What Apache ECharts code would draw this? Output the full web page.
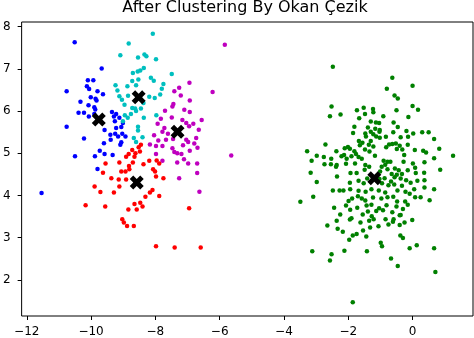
<!DOCTYPE html>
<html>
<head>
<meta charset="utf-8">
<script src="https://cdn.jsdelivr.net/npm/echarts@6/dist/echarts.min.js"></script>
<style>
  html, body { margin: 0; padding: 0; background: #fff; }
  #chart { width: 474px; height: 338px; }
</style>
</head>
<body>
<div id="chart"></div>
<script>
// Cluster members, [x, y]
const blue = [
  [-10.51,7.63],[-9.67,7.01],[-10.10,6.73],[-9.93,6.73],[-10.13,6.59],[-10.06,6.52],[-9.80,6.47],[-10.76,6.47],
  [-9.63,6.40],[-10.01,6.33],[-9.86,6.29],[-9.83,6.25],[-10.33,6.22],[-10.08,6.14],[-9.90,6.09],[-9.87,6.04],
  [-10.39,5.96],[-10.22,5.96],[-10.07,5.87],[-9.90,5.93],[-9.35,5.98],[-9.22,5.93],[-9.29,5.87],[-9.26,5.76],
  [-9.12,5.84],[-9.01,5.72],[-10.76,5.63],[-9.58,5.55],[-9.22,5.60],[-9.06,5.62],[-9.40,5.44],[-9.25,5.46],
  [-9.16,5.40],[-9.03,5.46],[-8.93,5.40],[-10.22,5.35],[-9.39,5.32],[-9.06,5.26],[-9.60,5.24],
  [-10.50,4.93],[-9.80,4.63],[-9.88,4.93],[-9.73,5.06],[-9.58,4.98],[-9.33,4.96],[-9.09,5.20],[-11.54,4.06]
];
const cyan = [
  [-8.08,7.83],[-8.83,7.60],[-9.09,7.32],[-8.54,7.27],[-8.34,7.34],[-8.28,7.30],[-7.98,7.23],[-7.49,6.88],
  [-8.36,7.02],[-8.47,6.96],[-8.55,6.94],[-8.70,6.90],[-8.14,6.79],[-8.05,6.72],[-8.72,6.71],[-8.53,6.75],
  [-7.75,6.64],[-9.24,6.61],[-8.87,6.59],[-8.60,6.61],[-7.80,6.53],[-9.18,6.49],[-9.12,6.35],[-8.85,6.36],
  [-8.19,6.34],[-8.02,6.31],[-7.85,6.39],[-9.04,6.27],[-8.96,6.15],[-8.72,6.07],[-8.63,6.06],[-8.37,6.19],
  [-8.45,6.06],[-8.95,5.90],[-8.76,5.93],[-8.60,6.00],[-8.86,5.84],[-8.36,5.84],[-9.01,5.76],[-7.97,5.90],
  [-8.54,5.63],[-8.54,5.54],[-8.67,5.36],[-8.40,5.38],[-8.60,5.27]
];
const magenta = [
  [-5.84,7.57],[-6.22,6.45],[-6.94,6.67],[-7.41,6.47],[-7.26,6.55],[-7.21,6.37],[-6.93,6.25],[-7.44,6.17],
  [-7.47,6.11],[-7.70,6.01],[-7.10,6.03],[-6.93,5.98],[-7.49,5.85],[-7.83,5.82],[-7.93,5.70],[-7.16,5.79],
  [-7.04,5.72],[-6.95,5.64],[-6.82,5.70],[-6.56,5.79],[-6.65,5.56],[-7.72,5.60],[-7.78,5.51],[-7.61,5.46],
  [-8.04,5.43],[-7.45,5.34],[-7.67,5.32],[-7.91,5.30],[-7.04,5.32],[-6.73,5.36],[-6.79,5.23],[-8.17,5.21],
  [-7.78,5.17],[-7.14,5.19],[-6.93,5.06],[-6.69,5.13],[-7.41,5.03],[-5.64,4.95],[-7.19,4.98],
  [-7.98,5.17],[-7.47,5.12],[-7.32,5.00],[-7.98,4.98],[-7.78,4.82],[-7.32,4.78],[-7.11,4.86],[-6.98,4.76],
  [-6.70,4.76],[-7.26,4.41],[-6.70,4.53],[-6.63,4.09],[-6.98,5.27]
];
const red = [
  [-8.45,5.20],[-8.52,5.14],[-8.72,5.08],[-8.83,4.98],[-8.62,5.00],[-8.91,4.92],[-8.65,4.92],[-8.48,5.04],
  [-9.55,4.76],[-9.12,4.78],[-8.70,4.78],[-8.37,4.74],[-8.19,4.82],[-7.96,4.83],[-7.88,4.76],[-8.82,4.70],
  [-9.63,4.54],[-9.06,4.57],[-8.93,4.57],[-8.81,4.62],[-8.07,4.62],[-8.01,4.57],[-9.37,4.41],[-9.14,4.38],
  [-8.91,4.38],[-7.98,4.45],[-7.75,4.41],[-9.89,4.21],[-9.12,4.21],[-9.71,4.08],[-9.29,4.07],[-8.09,4.13],
  [-8.17,4.07],[-7.88,3.99],[-8.31,3.97],[-10.17,3.77],[-9.56,3.74],[-8.65,3.80],[-8.47,3.83],[-8.40,3.74],
  [-8.84,3.67],[-8.58,3.67],[-9.03,3.44],[-8.98,3.36],[-8.88,3.28],[-8.67,3.28],[-6.95,3.70],[-7.98,2.80],
  [-7.40,2.77],[-6.59,2.77]
];
const green = [
  [-2.48,7.05],[-0.63,6.79],[-0.80,6.53],[0.00,6.60],[-0.56,6.37],[-0.46,6.30],
  [-2.52,6.11],[-2.57,5.88],[-2.24,5.92],[-1.73,6.02],[-1.52,6.08],[-1.23,6.05],[-1.22,5.97],
  [-1.66,5.83],[-1.48,5.93],[-0.91,5.88],[-0.50,6.02],[0.00,6.12],[0.17,6.03],[-0.13,5.86],
  [-1.30,5.75],[-1.14,5.73],[-1.04,5.72],[-0.59,5.73],
  [-1.81,5.63],[-1.39,5.61],[-1.16,5.58],[-1.02,5.55],[-0.46,5.62],
  [-1.85,5.48],[-1.47,5.47],[-1.30,5.51],[-1.22,5.45],[-1.03,5.51],[-0.83,5.39],[-0.60,5.50],[-0.19,5.53],
  [0.02,5.47],[0.30,5.50],[0.50,5.50],
  [-1.45,5.40],[-1.13,5.40],[-1.02,5.37],[-0.37,5.38],[-0.14,5.39],[0.67,5.34],
  [-1.67,5.29],[-1.56,5.25],[-1.30,5.29],[-0.63,5.22],[-0.52,5.23],[-0.40,5.18],[-0.15,5.20],
  [-2.71,5.21],[-2.01,5.15],[-1.64,5.19],[-1.36,5.20],[-1.22,5.16],[-0.82,5.14],[-0.73,5.21],[-0.49,5.10],
  [-0.32,5.09],[0.07,5.08],[0.33,5.06],[0.42,5.02],[0.83,5.11],
  [-3.28,5.05],[-2.98,4.94],[-2.37,5.05],[-2.11,5.12],[-1.95,5.11],[-1.48,5.09],[-1.34,5.04],[-1.81,5.05],
  [-1.76,4.98],[-1.17,4.94],[-0.26,4.96],[1.26,4.94],
  [-3.14,4.82],[-2.76,4.91],[-2.53,4.87],[-2.21,4.93],[-2.13,4.96],[-2.05,4.87],[-1.90,4.93],[-1.68,4.91],
  [-1.58,4.87],[-0.90,4.82],[-0.78,4.80],[-0.69,4.80],[-0.28,4.80],[0.01,4.76],[0.37,4.79],[0.67,4.88],
  [-2.74,4.74],[-2.54,4.74],[-2.36,4.72],[-2.07,4.75],[-1.79,4.76],[-1.47,4.72],[-1.35,4.68],[-0.96,4.68],
  [-0.85,4.73],[-0.78,4.62],[-0.55,4.64],[-0.43,4.60],[0.08,4.66],
  [-3.17,4.54],[-2.38,4.68],[-1.93,4.53],[-1.74,4.53],[-1.49,4.61],[-1.01,4.57],[-0.65,4.51],[-0.49,4.49],
  [-0.33,4.51],[-0.15,4.60],[0.10,4.53],[0.36,4.54],[0.86,4.61],
  [-2.98,4.32],[-2.35,4.45],[-1.68,4.35],[-1.41,4.40],[-1.03,4.39],[-0.87,4.41],[-0.67,4.33],[-0.56,4.43],
  [-0.37,4.40],[-0.20,4.36],[-0.06,4.30],[0.15,4.35],[0.37,4.36],
  [-2.48,4.12],[-2.27,4.12],[-2.15,4.12],[-1.95,4.30],[-1.52,4.29],[-0.95,4.29],[-0.75,4.24],[-0.57,4.26],
  [-0.33,4.23],[0.05,4.15],[0.37,4.19],[0.67,4.15],
  [-3.09,3.97],[-3.49,3.85],[-1.94,4.15],[-1.68,4.11],[-1.46,4.09],[-1.28,4.15],[-1.05,4.12],[-0.85,4.07],
  [-0.47,4.12],[-0.22,4.09],[-0.09,4.04],[0.08,3.96],[0.25,3.96],[0.53,3.89],
  [-1.99,3.87],[-1.88,3.93],[-1.70,3.98],[-1.58,3.93],[-1.47,3.88],[-1.23,3.95],[-0.97,3.93],[-0.78,3.96],
  [-0.60,3.97],[-0.48,3.86],[-0.23,3.86],
  [-2.44,3.71],[-2.07,3.76],[-1.94,3.66],[-1.72,3.71],[-1.43,3.76],[-1.28,3.78],[-1.04,3.70],[-0.81,3.77],
  [-0.50,3.74],[-0.30,3.68],[-0.15,3.78],
  [-2.25,3.55],[-1.90,3.46],[-1.55,3.55],[-1.39,3.62],[-1.27,3.51],[-1.13,3.63],[-0.92,3.65],[-0.63,3.60],
  [-0.40,3.53],
  [-2.65,3.29],[-2.36,3.40],[-1.95,3.43],[-1.62,3.36],[-1.35,3.40],[-1.21,3.44],[-0.84,3.44],[-0.59,3.44],
  [-0.37,3.54],
  [-2.33,3.21],[-2.17,3.14],[-1.74,3.09],[-1.54,3.17],[-1.32,3.24],[-1.06,3.27],[-0.75,3.31],[-0.61,3.38],
  [-0.40,3.30],[-0.25,3.36],[-0.01,3.42],
  [-1.97,2.95],[-1.86,3.05],[-1.44,3.03],[-0.38,3.05],[-0.30,2.99],[-0.99,2.88],[-0.95,2.80],
  [-3.12,2.68],[-2.52,2.61],[-2.57,2.46],[-2.12,2.69],[-1.42,2.68],[-0.09,2.75],[0.13,2.82],[0.67,2.75],
  [-0.67,2.51],[-0.46,2.33],[0.71,2.19],[-1.86,1.47]
];
// Cluster centres
const centroids = [[-9.76,5.80],[-8.52,6.33],[-7.31,5.51],[-8.58,4.31],[-1.19,4.41]];

// Axis ticks
const xTicks = [-12, -10, -8, -6, -4, -2, 0];
const yTicks = [2, 3, 4, 5, 6, 7, 8];

const FONT = 'DejaVu Sans';
const minus = v => String(v).replace('-', '\u2212');
// filled "X" marker
const xMarker = 'path://M2.5,0 L5,2.5 L7.5,0 L10,2.5 L7.5,5 L10,7.5 L7.5,10 L5,7.5 L2.5,10 L0,7.5 L2.5,5 L0,2.5 Z';

const dots = (data, color) => ({
  type: 'scatter',
  data: data,
  symbol: 'circle',
  symbolSize: 4.5,
  itemStyle: { color: color, opacity: 1 },
  emphasis: { disabled: true },
  silent: true,
  animation: false
});

const axisCommon = ticks => ({
  type: 'value',
  axisLine: { show: false, onZero: false },
  splitLine: { show: false },
  axisTick: { show: true, customValues: ticks, length: 4, lineStyle: { color: '#000', width: 1 } },
  axisLabel: {
    customValues: ticks,
    fontFamily: FONT, fontSize: 12, color: '#000',
    formatter: minus
  }
});

const xAxis = axisCommon(xTicks);
xAxis.min = -12.16; xAxis.max = 1.88;
xAxis.axisLabel.margin = 10;

const yAxis = axisCommon(yTicks);
yAxis.min = 1.145; yAxis.max = 8.11;
yAxis.axisLabel.margin = 11;

const chart = echarts.init(document.getElementById('chart'), null, { renderer: 'canvas' });
chart.setOption({
  backgroundColor: '#ffffff',
  animation: false,
  title: {
    text: 'After Clustering By Okan \u00C7ezik',
    left: 245,
    top: 0,
    textAlign: 'center',
    padding: 0,
    textStyle: { fontFamily: FONT, fontSize: 16, fontWeight: 'normal', color: '#000' }
  },
  grid: {
    left: 18, right: 1, top: 22, bottom: 22,
    show: true, borderColor: '#000', borderWidth: 1, backgroundColor: 'transparent'
  },
  xAxis: xAxis,
  yAxis: yAxis,
  series: [
    dots(green, '#008000'),
    dots(blue, '#0000ff'),
    dots(cyan, '#00bfbf'),
    dots(magenta, '#bf00bf'),
    dots(red, '#ff0000'),
    {
      type: 'scatter',
      data: centroids,
      symbol: xMarker,
      symbolSize: 14,
      itemStyle: { color: '#000', opacity: 1 },
      emphasis: { disabled: true },
      silent: true,
      z: 5
    }
  ]
});
</script>
</body>
</html>
